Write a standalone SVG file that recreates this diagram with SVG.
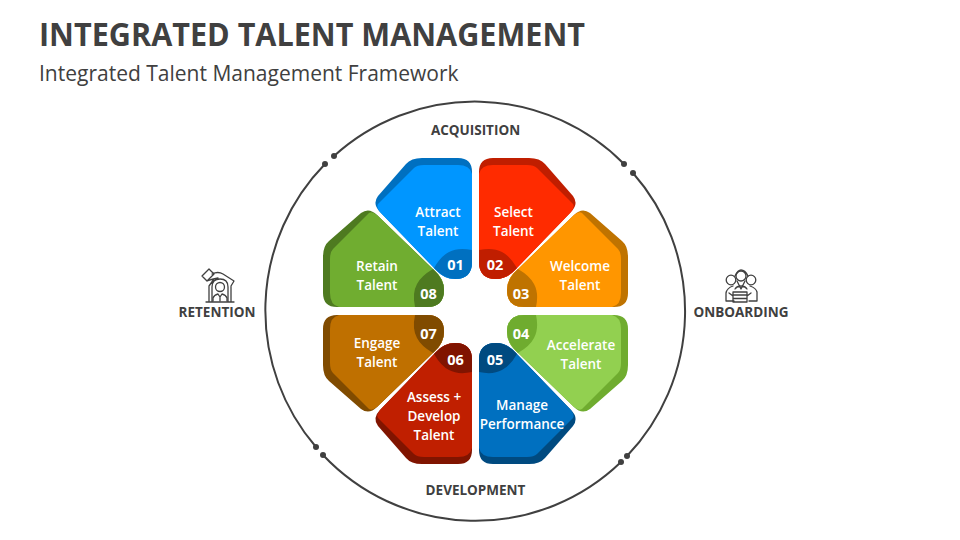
<svg xmlns="http://www.w3.org/2000/svg" width="960" height="540" viewBox="0 0 960 540">
<style>
text{font-family:"Open Sans","Liberation Sans",sans-serif}
.t{fill:#404040;font-weight:700;font-size:33px}
.s{fill:#404040;font-size:21px}
.l{fill:#404040;font-weight:700;font-size:13.5px;text-anchor:middle}
.n{fill:#fff;font-weight:600;font-size:13.5px;text-anchor:middle}
.b{fill:#fff;font-weight:700;font-size:14.5px;text-anchor:middle}
.ring{fill:none;stroke:#404040;stroke-width:2}
.dot{fill:#404040}
.ic{fill:none;stroke:#404040;stroke-width:1.3;stroke-linejoin:round;stroke-linecap:round}
</style>
<defs>
<path id="o" d="M422 158H458Q472 158 472 172V262Q472 279 455 279Q444 279 436 270L380 212Q372 204 378 196L406 164Q411 158 422 158Z"/>
<path id="i" d="M424 165H458Q470 165 472 174V262Q472 279 455 279Q444 279 436 270L380 212Q376 207 378 204L414 168Q417 165 424 165Z"/>
<path id="c" d="M472 250Q458 247 449 252Q441 256 434 268Q444 279 455 279Q472 279 472 262Z"/>
</defs>
<text class="t" x="39" y="46" textLength="546" lengthAdjust="spacingAndGlyphs">INTEGRATED TALENT MANAGEMENT</text>
<text class="s" x="39" y="81">Integrated Talent Management Framework</text>
<g id="connectors">
<path class="ring" d="M334 156A209.5 209.5 0 0 1 624 164"/>
<path class="ring" d="M633 173A209.5 209.5 0 0 1 627 456"/>
<path class="ring" d="M621 462A209.5 209.5 0 0 1 323 455"/>
<path class="ring" d="M316 447A209.5 209.5 0 0 1 325 164"/>
<circle class="dot" cx="334" cy="156" r="3"/><circle class="dot" cx="325" cy="164" r="3"/>
<circle class="dot" cx="624" cy="164" r="3"/><circle class="dot" cx="633" cy="173" r="3"/>
<circle class="dot" cx="627" cy="456" r="3"/><circle class="dot" cx="621" cy="462" r="3"/>
<circle class="dot" cx="323" cy="455" r="3"/><circle class="dot" cx="316" cy="447" r="3"/>
</g>
<g id="node-01"><use href="#o" fill="#0070C0"/><use href="#i" fill="#0096FF"/><use href="#c" fill="#0070C0"/>
<text class="n" x="438" y="217">Attract</text><text class="n" x="438" y="236">Talent</text><text class="b" x="455.5" y="270">01</text></g>
<g id="node-02"><g transform="matrix(-1 0 0 1 951 0)"><use href="#o" fill="#C01E00"/><use href="#i" fill="#FF2B00"/><use href="#c" fill="#C01E00"/></g>
<text class="n" x="513.5" y="217">Select</text><text class="n" x="513.5" y="236">Talent</text><text class="b" x="495" y="270">02</text></g>
<g id="node-03"><g transform="matrix(0 1 -1 0 786 -165)"><use href="#o" fill="#BF7300"/><use href="#i" fill="#FF9600"/><use href="#c" fill="#BF7300"/></g>
<text class="n" x="580" y="271">Welcome</text><text class="n" x="580" y="290">Talent</text><text class="b" x="521" y="299">03</text></g>
<g id="node-04"><g transform="matrix(0 -1 -1 0 786 787)"><use href="#o" fill="#6FAC2F"/><use href="#i" fill="#92D050"/><use href="#c" fill="#6FAC2F"/></g>
<text class="n" x="581" y="350">Accelerate</text><text class="n" x="581" y="369">Talent</text><text class="b" x="521" y="339">04</text></g>
<g id="node-05"><g transform="matrix(-1 0 0 -1 951 622)"><use href="#o" fill="#004A80"/><use href="#i" fill="#0070C0"/><use href="#c" fill="#004A80"/></g>
<text class="n" x="522" y="410">Manage</text><text class="n" x="522" y="429">Performance</text><text class="b" x="495" y="365">05</text></g>
<g id="node-06"><g transform="matrix(1 0 0 -1 0 622)"><use href="#o" fill="#801400"/><use href="#i" fill="#C01F00"/><use href="#c" fill="#801400"/></g>
<text class="n" x="434" y="402">Assess +</text><text class="n" x="434" y="421">Develop</text><text class="n" x="434" y="440">Talent</text><text class="b" x="455.5" y="365">06</text></g>
<g id="node-07"><g transform="matrix(0 -1 1 0 165 787)"><use href="#o" fill="#804B00"/><use href="#i" fill="#BF7000"/><use href="#c" fill="#804B00"/></g>
<text class="n" x="377" y="348">Engage</text><text class="n" x="377" y="367">Talent</text><text class="b" x="428.5" y="339">07</text></g>
<g id="node-08"><g transform="matrix(0 1 1 0 165 -165)"><use href="#o" fill="#4E7A20"/><use href="#i" fill="#70AD30"/><use href="#c" fill="#4E7A20"/></g>
<text class="n" x="377" y="271">Retain</text><text class="n" x="377" y="290">Talent</text><text class="b" x="428.5" y="299">08</text></g>
<g id="acquisition"><text class="l" x="475.5" y="135">ACQUISITION</text></g>
<g id="development"><text class="l" x="475.5" y="495">DEVELOPMENT</text></g>
<g id="retention"><text class="l" x="217" y="317">RETENTION</text>
<path class="ic" d="M209 302V286M231 302V286M212 302V287Q212 279 220 279Q228 279 228 287V302M206 302H234M209 286L214 279M231 286L234 281 223 274Q218 271 212 274M202 276L209 269 214 274 207 281ZM207 281Q212 279 218 278"/>
<circle class="ic" cx="220" cy="287" r="4.5"/>
<path class="ic" d="M213 301V298Q214 295 218 294L220 297 222 294Q226 295 227 298V301M220 297V301"/></g>
<g id="onboarding"><text class="l" x="741" y="317">ONBOARDING</text>
<path class="ic" d="M726 301V293Q727 288 733 286M757 301V292Q756 288 750 286M726 301H734M749 301H757M733 292H747V302H733ZM733 295H747M733 298.500H747M735 289Q737 286 741 286Q745 286 747 289M729 293L733 296M751 293L747 296M735 276Q738 270 741 270Q745 270 748 276M737 281L741 289 745 281"/>
<circle class="ic" cx="731" cy="280" r="4.800"/><circle class="ic" cx="741" cy="276" r="5"/><circle class="ic" cx="751" cy="280" r="4.800"/></g>
</svg>
